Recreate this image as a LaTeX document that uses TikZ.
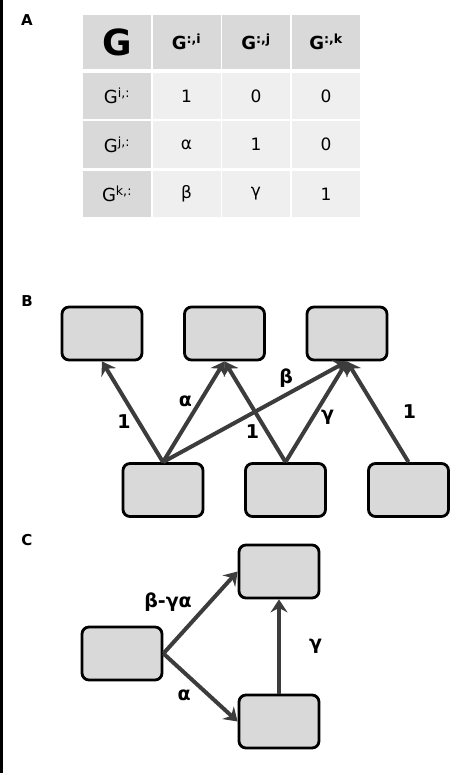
\documentclass[tikz,border=0pt]{standalone}
\usepackage{fontspec}
\setmainfont{DejaVu Sans}
\usetikzlibrary{arrows.meta}
\definecolor{boxgray}{HTML}{D9D9D9}
\definecolor{headgray}{HTML}{D9D9D9}
\definecolor{cellgray}{HTML}{EFEFEF}
\definecolor{arrowgray}{HTML}{3C3C3C}

\begin{document}
\begin{tikzpicture}
[x=1pt,y=-1pt,%
  panelLabel/.style={font=\bfseries\fontsize{15}{15}\selectfont},%
  headCell/.style={fill=headgray,minimum width=68pt,inner sep=0pt},%
  dataCell/.style={fill=cellgray,minimum width=68pt,inner sep=0pt,font=\fontsize{17}{17}\selectfont},%
  nodeBox/.style={draw=black,line width=2.8pt,fill=boxgray,rounded corners=7pt,minimum width=80pt,minimum height=53pt},%
  lineDecorate/.style={draw=arrowgray,line width=4pt,-{Stealth[length=13pt,width=17pt,inset=4.5pt]}},%
  edgeLabel/.style={font=\bfseries\fontsize{19}{19}\selectfont,inner sep=2pt}]
\useasboundingbox (0,0) rectangle (474,775);
%% frame line on the left
\draw[line width=2.6pt] (1.3,0) -- (1.3,773);
%% panel labels
\node[panelLabel] (A) at (27,20) {A};
\node[panelLabel] (B) at (27,301) {B};
\node[panelLabel] (C) at (27,540) {C};
%% table of panel A
\node[headCell,minimum height=54pt,font=\bfseries\fontsize{36}{36}\selectfont] (g) at (117,42) {G};
\foreach \nodename/\x/\idx in {ci/186.5/i, cj/256/j, ck/326/k}
{
  \node[headCell,minimum height=54pt,font=\bfseries\fontsize{18}{18}\selectfont] (\nodename) at (\x,42) {G\textsuperscript{:,\idx}};
}
\foreach \nodename/\y/\idx in {ri/96/i, rj/144.5/j, rk/194/k}
{
  \node[headCell,minimum height=46.5pt,font=\fontsize{18}{18}\selectfont] (\nodename) at (117,\y) {G\textsuperscript{\idx,:}};
}
\foreach \nodename/\x/\y/\val in {
  ii/186.5/96/1, ij/256/96/0, ik/326/96/0,
  ji/186.5/144.5/α, jj/256/144.5/1, jk/326/144.5/0,
  ki/186.5/194/β, kj/256/194/γ, kk/326/194/1}
{
  \node[dataCell,minimum height=46.5pt] (\nodename) at (\x,\y) {\val};
}
%% boxes of panel B
\node[nodeBox] (t1) at (102,333.5) {};
\node[nodeBox] (t2) at (224.5,333.5) {};
\node[nodeBox] (t3) at (347,333.5) {};
\node[nodeBox] (b1) at (163,490) {};
\node[nodeBox] (b2) at (285.5,490) {};
\node[nodeBox] (b3) at (408.5,490) {};
%% edges of panel B
\path
(b1.north) edge[lineDecorate] node[edgeLabel,pos=0.4,left=4pt] {1} (t1.south)
(b1.north) edge[lineDecorate] node[edgeLabel,pos=0.6,left=4pt] {α} (t2.south)
(b1.north) edge[lineDecorate] node[edgeLabel,pos=0.67,above=3pt] {β} (t3.south)
(b2.north) edge[lineDecorate] node[edgeLabel,pos=0.3,left=4pt] {1} (t2.south)
(b2.north) edge[lineDecorate] node[edgeLabel,pos=0.45,right=4pt] {γ} (t3.south)
(b3.north) edge[lineDecorate] node[edgeLabel,pos=0.5,right=21pt] {1} (t3.south);
%% boxes of panel C
\node[nodeBox] (l) at (122,653.5) {};
\node[nodeBox] (tr) at (279,571.5) {};
\node[nodeBox] (br) at (279,721.5) {};
%% edges of panel C
\path
(l.east) edge[lineDecorate] node[edgeLabel,pos=0.45,above left=1pt] {β-γα} (tr.west)
(l.east) edge[lineDecorate] node[edgeLabel,pos=0.45,below left=2pt] {α} (br.west)
(br.north) edge[lineDecorate] node[edgeLabel,pos=0.5,right=26pt] {γ} (tr.south);
\end{tikzpicture}
\end{document}
